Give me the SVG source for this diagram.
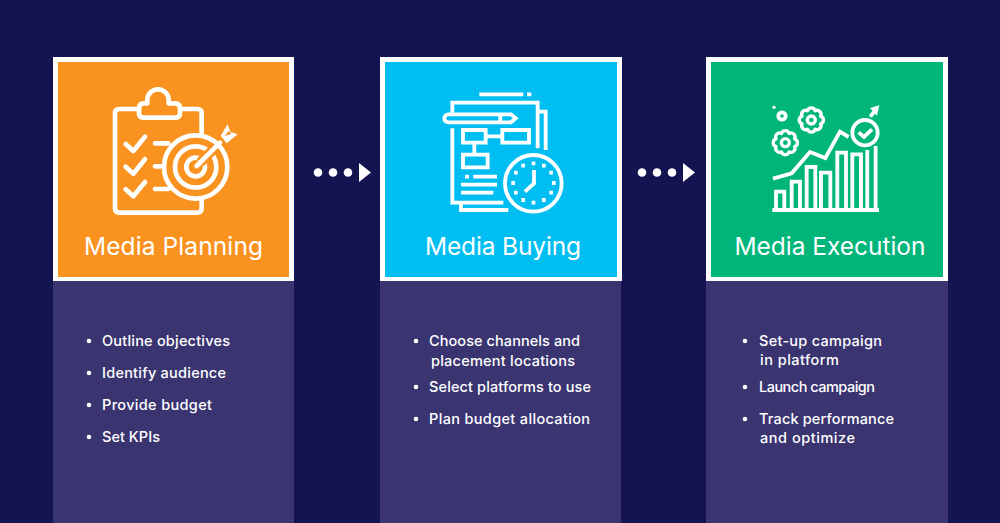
<svg xmlns="http://www.w3.org/2000/svg" width="1000" height="523" viewBox="0 0 1000 523">
<style>
text{font-family:Inter,"Open Sans","Liberation Sans",sans-serif;fill:#fff}
.t{font-size:24.500px;font-weight:400;text-anchor:middle}
.b{font-size:14.500px;font-weight:500}
.bul{fill:#fff}
.frame{fill:#fff}
.panel{fill:#3a3470}
.i{fill:none;stroke:#fff;stroke-width:14;stroke-linecap:round;stroke-linejoin:round}
.s{fill:none;stroke:#fff;stroke-width:11.500;stroke-linejoin:miter;stroke-linecap:butt}
.g{fill:none;stroke:#fff;stroke-width:10;stroke-linejoin:round;stroke-linecap:round}
</style>
<defs>
<g id="gear"><path class="g" d="M27.7 11.5A12 12 0 0 1 11.5 27.7A12 12 0 0 1-11.5 27.7A12 12 0 0 1-27.7 11.5A12 12 0 0 1-27.7-11.5A12 12 0 0 1-11.5-27.7A12 12 0 0 1 11.5-27.7A12 12 0 0 1 27.7-11.5A12 12 0 0 1 27.7 11.5Z"/><circle class="g" r="12"/></g>
<g id="dots"><circle cx="0" cy="0" r="4.300" fill="#fff"/><circle cx="15" cy="0" r="4.300" fill="#fff"/><circle cx="30" cy="0" r="4.300" fill="#fff"/><path d="M41-9.500L53 0L41 9.500Z" fill="#fff"/></g>
</defs>
<rect width="1000" height="523" fill="#141450"/>

<g id="media-planning">
<rect class="panel" x="53" y="281" width="241" height="242"/>
<rect class="frame" x="53" y="57" width="241" height="224"/>
<rect x="58" y="62" width="231" height="215" fill="#fa921f"/>
<g transform="translate(90 75) scale(.3333)">
<path class="i" d="M335 175V115Q335 102 322 102H272M148 102H88Q75 102 75 115V400Q75 413 88 413H322Q335 413 335 400V378"/>
<path class="i" d="M160 128Q147 128 147 115V100Q147 85 162 85H172V75A32 32 0 0 1 236 75V85H255Q270 85 270 100V115Q270 128 257 128Z"/>
<path class="i" d="M107 207L130 228L165 185M107 275L130 296L165 253M107 343L130 364L165 321M195 205H235M195 274H212M195 342H235"/>
<circle class="i" cx="317" cy="276" r="95"/>
<circle class="i" cx="317" cy="276" r="62"/>
<circle class="i" cx="317" cy="276" r="28"/>
<path d="M330 263L374 219" fill="none" stroke="#fa921f" stroke-width="30"/>
<path class="i" d="M320 273L390 203"/>
<path d="M392 182L413 148L421 170L443 178L410 205Z" fill="#fff"/>
<path d="M404 183L416 168L425 176Z" fill="#fa921f"/>
</g>
<text class="t" x="173.500" y="255" textLength="179">Media Planning</text>
<circle class="bul" cx="89" cy="341" r="2.300"/><circle class="bul" cx="89" cy="373" r="2.300"/><circle class="bul" cx="89" cy="405" r="2.300"/><circle class="bul" cx="89" cy="437" r="2.300"/>
<text class="b" x="102" y="346" textLength="128">Outline objectives</text>
<text class="b" x="102" y="378" textLength="124">Identify audience</text>
<text class="b" x="102" y="410" textLength="110">Provide budget</text>
<text class="b" x="102" y="442" textLength="58">Set KPIs</text>
</g>

<g id="media-buying">
<rect class="panel" x="380" y="281" width="241" height="242"/>
<rect class="frame" x="380" y="57" width="242" height="224"/>
<rect x="385" y="62" width="232" height="215" fill="#00bef2"/>
<g transform="translate(425 80) scale(.3333)">
<path class="s" d="M163 43H295M306 43H319M82 98V68H338V205M343 95H362V210M82 145V368H235M108 370V390H250"/>
<path class="s" d="M70 103H258L272 115L258 127H70A12 12 0 0 1 70 103ZM226 103V127"/>
<path class="s" d="M114 150H182V188H114ZM232 150H312V188H232ZM182 169H232M148 188V224M114 224H188V262H114Z"/>
<path class="s" d="M120 290H132M145 290H216M108 314H216M108 338H205"/>
<circle class="s" cx="325" cy="310" r="85"/>
<path class="s" d="M327 270V310L300 335"/>
<path class="s" stroke-width="12" d="M320 250h11M351 257h11M373 278h11M381 309h11M373 338h11M351 360h11M320 368h11M289 360h11M267 338h11M259 309h11M267 278h11M289 257h11"/>
</g>
<text class="t" x="503" y="255" textLength="156">Media Buying</text>
<circle class="bul" cx="416" cy="341" r="2.300"/><circle class="bul" cx="416" cy="387" r="2.300"/><circle class="bul" cx="416" cy="419" r="2.300"/>
<text class="b" x="429" y="346" textLength="151">Choose channels and</text>
<text class="b" x="431" y="366" textLength="144">placement locations</text>
<text class="b" x="429" y="392" textLength="162">Select platforms to use</text>
<text class="b" x="429" y="424" textLength="161">Plan budget allocation</text>
</g>

<g id="media-execution">
<rect class="panel" x="706" y="281" width="242" height="242"/>
<rect class="frame" x="706" y="57" width="242" height="224"/>
<rect x="711" y="62" width="232" height="215" fill="#00b57a"/>
<g transform="translate(755 90) scale(.3333)">
<path class="s" d="M52 360H372M63 360V305H88V360M110 360V275H135V360M155 360V231H181V360M198 360V248H226V360M247 360V188H273V360M292 360V193H318V360M337 360V180M362 360V168"/>
<path class="s" d="M54 266L110 250L165 186L211 204L255 125L281 141"/>
<circle class="s" cx="330" cy="128" r="38"/>
<path class="s" d="M311 127L327 141L351 118M346 80L362 60"/>
<path d="M345 54L373 46L366 77Z" fill="#fff"/>
<use href="#gear" transform="translate(169 90)"/>
<use href="#gear" transform="translate(91 158)"/>
<circle class="s" stroke-width="8" cx="81" cy="78" r="11"/>
<circle cx="57" cy="52" r="5" fill="#fff"/>
</g>
<text class="t" x="830" y="255" textLength="191">Media Execution</text>
<circle class="bul" cx="745" cy="341" r="2.300"/><circle class="bul" cx="745" cy="387" r="2.300"/><circle class="bul" cx="745" cy="419" r="2.300"/>
<text class="b" x="759" y="346" textLength="123">Set-up campaign</text>
<text class="b" x="760" y="365" textLength="79">in platform</text>
<text class="b" x="759" y="392" textLength="116">Launch campaign</text>
<text class="b" x="759" y="424" textLength="135">Track performance</text>
<text class="b" x="760" y="443" textLength="95">and optimize</text>
</g>

<g id="connectors">
<use href="#dots" transform="translate(318 172.500)"/>
<use href="#dots" transform="translate(642 172.500)"/>
</g>
</svg>
